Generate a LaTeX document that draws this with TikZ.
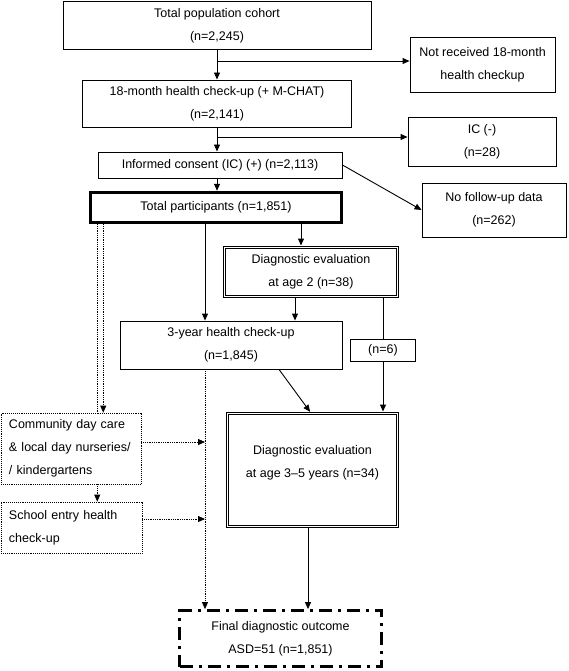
\documentclass[tikz,border=0pt]{standalone}
\usepackage{fontspec}
\setmainfont{Liberation Sans}
\usetikzlibrary{arrows.meta}

\begin{document}
\begin{tikzpicture}[
  x=1pt,y=-1pt,
  >={Triangle[length=7pt,width=6pt]},
  every node/.style={
    draw,rectangle,line width=0.9pt,
    inner sep=0pt, align=center,
    font=\fontsize{12.5}{23}\selectfont},
  box/.style 2 args={minimum width=#1pt,minimum height=#2pt},
  heavy/.style={line width=3.5pt},
  dbl/.style={double,double distance=1.6pt,line width=0.9pt},
  dotbox/.style={densely dotted,line width=0.8pt,align=left,inner xsep=8pt},
  final/.style={line width=2.8pt,dash pattern=on 13pt off 6pt on 3pt off 6pt},
  link/.style={line width=0.9pt},
  dotline/.style={densely dotted,line width=0.8pt}]

  \useasboundingbox (0,0) rectangle (568,671);

  \node[box={308}{48}] (tpc) at (217,25.5) {Total population cohort\\(n=2,245)};
  \node[box={145}{55}] (nr) at (482.5,64.5) {Not received 18-month\\health checkup};
  \node[box={269}{47}] (m18) at (217,103.5) {18-month health check-up (+ M-CHAT)\\(n=2,141)};
  \node[box={148}{49}] (icm) at (482,141.5) {IC (-)\\(n=28)};
  \node[box={244}{26}] (icp) at (220,165) {Informed consent (IC) (+) (n=2,113)};
  \node[box={144}{54}] (nfu) at (494,210) {No follow-up data\\(n=262)};
  \node[box={251}{30},heavy] (tp) at (216,207.5) {Total participants (n=1,851)};
  \node[box={173}{49},dbl] (d2) at (311,272) {Diagnostic evaluation\\at age 2 (n=38)};
  \node[box={222}{48}] (y3) at (231,345) {3-year health check-up\\(n=1,845)};
  \node[box={65}{22}] (n6) at (383,350) {(n=6)};
  \node[box={140}{71},dotbox,text width=124pt] (cdc) at (71,448.5)
    {Community day care\\\& local day nurseries/\\/ kindergartens};
  \node[box={141}{51},dotbox,text width=125pt] (sch) at (71.5,527.5)
    {School entry health\\check-up};
  \node[box={170}{113},dbl] (d3) at (312.5,470)
    {Diagnostic evaluation\\at age 3--5 years (n=34)\\[-5pt]\mbox{}};
  \node[box={202}{56},final] (fin) at (280.5,638.5) {Final diagnostic outcome\\ASD=51 (n=1,851)};

  % main line
  \coordinate (b1) at (217,61);
  \coordinate (b2) at (217,137);
  \draw[link,->] (tpc) -- (m18);
  \draw[link,->] (b1) -- (b1 -| nr.west);
  \draw[link,->] (m18.south) -- (m18.south |- icp.north);
  \draw[link,->] (b2) -- (b2 -| icm.west);
  \draw[link,->] (icp.east) -- (nfu.west);
  \draw[link,->] (m18.south |- icp.south) -- (m18.south |- tp.north);

  % follow-up
  \draw[link,->] ([xshift=-11pt]tp.south) -- ([xshift=-11pt]tp.south |- y3.north);
  \draw[link,->,shorten >=1.5pt] ([xshift=-10pt]d2.north |- tp.south) -- ([xshift=-10pt]d2.north);
  \draw[link,->] ([xshift=-16pt]d2.south) -- ([xshift=-16pt]d2.south |- y3.north);
  \draw[link] (d2.south -| n6.north) -- (n6.north);
  \draw[link,->,shorten >=1.5pt] (n6.south) -- (n6.south |- d3.north);
  \draw[link,->,shorten >=1.5pt] ([xshift=48pt]y3.south) -- ([xshift=-1.5pt]d3.north);
  \draw[link,->] ([xshift=-4.5pt]d3.south) -- ([xshift=-4.5pt]d3.south |- fin.north);

  % dotted paths
  \coordinate (dv) at ([xshift=-26pt]y3.south);
  \coordinate (dl) at ([xshift=8.5pt]tp.south west);
  \draw[dotline,->] (dv) -- (dv |- fin.north);
  \draw[dotline,->] ([yshift=6.5pt]cdc.east) -- ([yshift=6.5pt]cdc.east -| dv);
  \draw[dotline,->] ([yshift=8.5pt]sch.east) -- ([yshift=8.5pt]sch.east -| dv);
  \draw[dotline] (dl) -- (dl |- cdc.north);
  \draw[dotline,->] ([xshift=6pt]dl) -- ([xshift=6pt]dl |- cdc.north);
  \draw[dotline,->] (dl |- cdc.south) -- (dl |- sch.north);
\end{tikzpicture}
\end{document}
